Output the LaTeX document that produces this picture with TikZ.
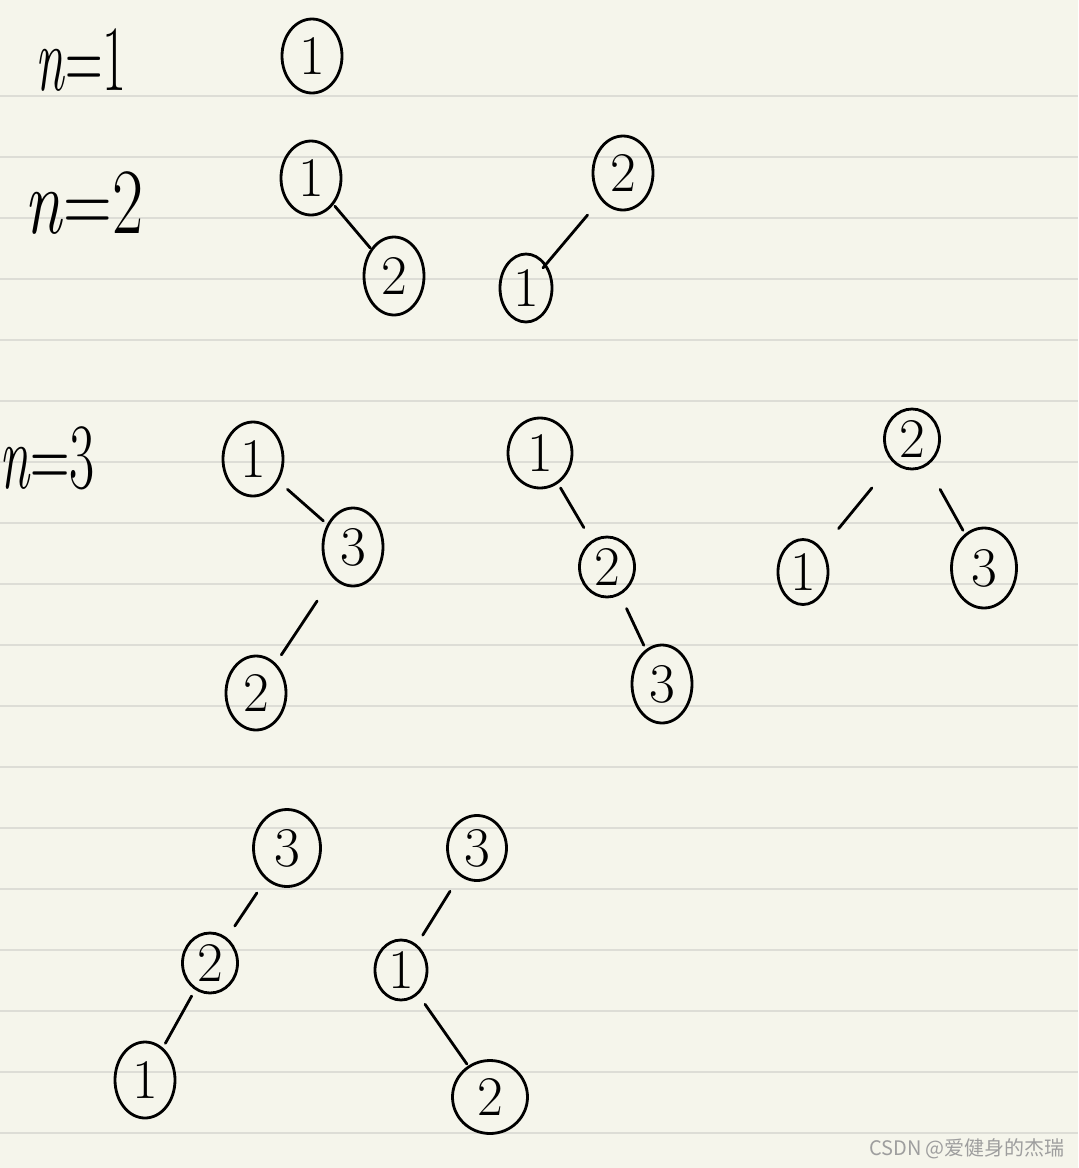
\documentclass[tikz,border=0pt]{standalone}
\usepackage{fontspec}
\newfontfamily\cjk{Noto Sans CJK SC}
\usetikzlibrary{shapes.geometric}

\definecolor{paper}{HTML}{F5F5EB}
\definecolor{ruling}{HTML}{DDDDD6}
\definecolor{wmgrey}{HTML}{9E9E9E}

\newcommand{\tall}[2][1]{\scalebox{#1}[1.8]{#2}}

\tikzset{
  ring/.style={ellipse, draw, line width=1.4pt, minimum width=30pt, minimum height=37pt,
    inner sep=0pt, font=\fontsize{28}{28}\selectfont},
  small ring/.style={ring, minimum width=27.5pt, minimum height=30pt},
  edge/.style={line width=1.4pt, line cap=round},
  rule/.style={ruling, line width=1pt},
  lbl/.style={font=\fontsize{26}{26}\selectfont, inner sep=0pt}
}

\begin{document}
\begin{tikzpicture}[x=0.5pt, y=-0.5pt]
%      \draw[help lines] (0,0) grid (1078,1168);
      \useasboundingbox (0,0) rectangle (1078,1168);
      \fill[paper] (0,0) rectangle (1078,1168);

      % ruled paper
      \draw[rule] (0,96)   -- (1078,96);
      \draw[rule] (0,157)  -- (1078,157);
      \draw[rule] (0,218)  -- (1078,218);
      \draw[rule] (0,279)  -- (1078,279);
      \draw[rule] (0,340)  -- (1078,340);
      \draw[rule] (0,401)  -- (1078,401);
      \draw[rule] (0,462)  -- (1078,462);
      \draw[rule] (0,523)  -- (1078,523);
      \draw[rule] (0,584)  -- (1078,584);
      \draw[rule] (0,645)  -- (1078,645);
      \draw[rule] (0,706)  -- (1078,706);
      \draw[rule] (0,767)  -- (1078,767);
      \draw[rule] (0,828)  -- (1078,828);
      \draw[rule] (0,889)  -- (1078,889);
      \draw[rule] (0,950)  -- (1078,950);
      \draw[rule] (0,1011) -- (1078,1011);
      \draw[rule] (0,1072) -- (1078,1072);
      \draw[rule] (0,1133) -- (1078,1133);

      \node[lbl] (nA) at (81,60)  {\tall{\textit{n}=1}};
      \node[lbl] (nB) at (84,203) {\tall[1.3]{\textit{n}=2}};
      \node[lbl] (nC) at (47,458) {\tall[1.05]{\textit{n}=3}};

      % n=1
      \node[ring] (a1) at (312,56) {1};

      % n=2
      \node[ring] (b1) at (311,178) {1};
      \node[ring, minimum height=39pt] (b2) at (394,276) {2};
      \draw[edge, shorten <=1pt, shorten >=0.5pt] (b1) -- (b2);

      \node[ring] (c2) at (623,173) {2};
      \node[ring, minimum width=26pt, minimum height=34pt] (c1) at (526,288) {1};
      \draw[edge, shorten <=10pt, shorten >=-2.5pt] (c2) -- (c1);

      % n=3
      \node[ring] (d1) at (253,459) {1};
      \node[ring, minimum height=39pt] (d3) at (353,547) {3};
      \node[ring] (d2) at (256,693) {2};
      \draw[edge, shorten <=6pt, shorten >=2.5pt] (d1) -- (d3);
      \draw[edge, shorten <=14pt, shorten >=5pt] (d3) -- (d2);

      \node[ring, minimum width=32pt, minimum height=35pt] (e1) at (540,453) {1};
      \node[small ring] (e2) at (607,567) {2};
      \node[ring, minimum height=39pt] (e3) at (662,684) {3};
      \draw[edge, shorten <=2.5pt, shorten >=7.5pt] (e1) -- (e2);
      \draw[edge, shorten <=7.5pt, shorten >=2.3pt] (e2) -- (e3);

      \node[small ring] (f2) at (912,439) {2};
      \node[ring, minimum width=25pt, minimum height=32.5pt] (f1) at (803,572) {1};
      \node[ring, minimum width=32.5pt, minimum height=40pt] (f3) at (984,568) {3};
      \draw[edge, shorten <=16.5pt, shorten >=13pt] (f2) -- (f1);
      \draw[edge, shorten <=13.5pt, shorten >=2pt] (f2) -- (f3);

      \node[ring, minimum width=33.5pt, minimum height=38.5pt] (g3) at (287,848) {3};
      \node[small ring] (g2) at (210,963) {2};
      \node[ring, minimum height=38pt] (g1) at (145,1080) {1};
      \draw[edge, shorten <=8pt, shorten >=7pt] (g3) -- (g2);
      \draw[edge, shorten <=3.5pt, shorten >=2.5pt] (g2) -- (g1);

      \node[ring, minimum width=29.5pt, minimum height=32.5pt] (h3) at (477,848) {3};
      \node[small ring, minimum width=26pt] (h1) at (401,970) {1};
      \node[ring, minimum width=37.5pt, minimum height=36.5pt] (h2) at (490,1097) {2};
      \draw[edge, shorten <=9pt, shorten >=5.5pt] (h3) -- (h1);
      \draw[edge, shorten <=6pt, shorten >=1pt] (h1) -- (h2);

      \node[wmgrey, font=\cjk\fontsize{10}{10}\selectfont] (wm) at (967,1149) {CSDN @爱健身的杰瑞};
\end{tikzpicture}
\end{document}
